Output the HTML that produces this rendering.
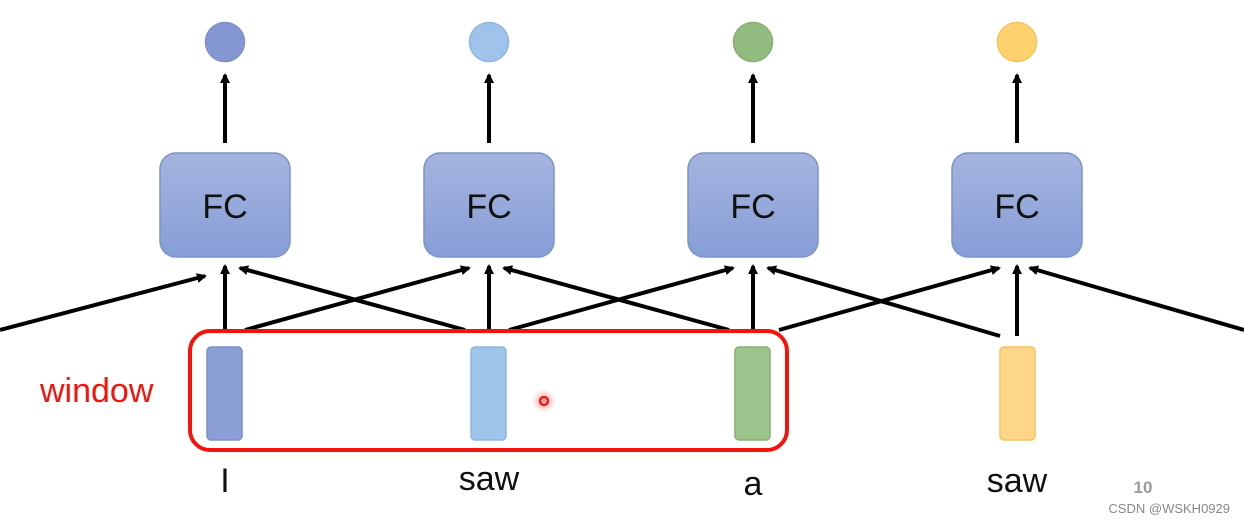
<!DOCTYPE html>
<html><head><meta charset="utf-8"><style>
html,body{margin:0;padding:0;background:#fff;}
svg{display:block;}
text{font-family:"Liberation Sans","DejaVu Sans",sans-serif;}
</style></head><body>
<svg width="1244" height="523" viewBox="0 0 1244 523" xmlns="http://www.w3.org/2000/svg">
<defs>
<linearGradient id="fc" x1="0" y1="0" x2="0" y2="1"><stop offset="0" stop-color="#a5b4df"/><stop offset="1" stop-color="#879ed7"/></linearGradient>
<marker id="ah" markerWidth="10" markerHeight="10" refX="8" refY="5" orient="auto" markerUnits="userSpaceOnUse" viewBox="0 0 10 10"><path d="M0,0 L10,5 L0,10 Z" fill="#000"/></marker>
<radialGradient id="glow"><stop offset="0" stop-color="#ff6060" stop-opacity="0.6"/><stop offset="1" stop-color="#ff6060" stop-opacity="0"/></radialGradient>
</defs>
<g stroke="#000" stroke-width="4" fill="none" marker-end="url(#ah)">
<!-- top arrows -->
<line x1="225" y1="143" x2="225" y2="75"/>
<line x1="489" y1="143" x2="489" y2="75"/>
<line x1="753" y1="143" x2="753" y2="75"/>
<line x1="1017" y1="143" x2="1017" y2="75"/>
<!-- verticals -->
<line x1="225" y1="330" x2="225" y2="266"/>
<line x1="489" y1="330" x2="489" y2="266"/>
<line x1="753" y1="330" x2="753" y2="266"/>
<line x1="1017" y1="336" x2="1017" y2="266"/>
<!-- diagonals -->
<line x1="0" y1="330" x2="205" y2="276"/>
<line x1="245" y1="330" x2="469" y2="268"/>
<line x1="465" y1="330" x2="240" y2="268"/>
<line x1="509" y1="330" x2="733" y2="268"/>
<line x1="729" y1="330" x2="504" y2="268"/>
<line x1="779" y1="330" x2="999" y2="268"/>
<line x1="1000" y1="336" x2="768" y2="268"/>
<line x1="1244" y1="330" x2="1030" y2="268"/>
</g>
<!-- circles -->
<circle cx="225" cy="42" r="19.5" fill="#8497d3" stroke="#7b8fcb" stroke-width="1.5"/>
<circle cx="489" cy="42" r="19.5" fill="#9fc3ea" stroke="#8db5e2" stroke-width="1.5"/>
<circle cx="753" cy="42" r="19.5" fill="#92bb80" stroke="#85b070" stroke-width="1.5"/>
<circle cx="1017" cy="42" r="19.5" fill="#fed16e" stroke="#f5c45a" stroke-width="1.5"/>
<!-- FC boxes -->
<g stroke="#7b93cc" stroke-width="1.5" fill="url(#fc)">
<rect x="160" y="153" width="130" height="104" rx="16"/>
<rect x="424" y="153" width="130" height="104" rx="16"/>
<rect x="688" y="153" width="130" height="104" rx="16"/>
<rect x="952" y="153" width="130" height="104" rx="16"/>
</g>
<g font-size="34" text-anchor="middle" fill="#111">
<text x="225" y="218">FC</text>
<text x="489" y="218">FC</text>
<text x="753" y="218">FC</text>
<text x="1017" y="218">FC</text>
</g>
<!-- vectors -->
<rect x="207" y="347" width="35" height="93" rx="4" fill="#8b9ed6" stroke="#7b8fcb" stroke-width="1.5"/>
<rect x="471" y="347" width="35" height="93" rx="4" fill="#a0c5ea" stroke="#8db5e2" stroke-width="1.5"/>
<rect x="735" y="347" width="35" height="93" rx="4" fill="#9ec48e" stroke="#85b070" stroke-width="1.5"/>
<rect x="1000" y="347" width="35" height="93" rx="4" fill="#fed688" stroke="#f5c45a" stroke-width="1.5"/>
<!-- window -->
<rect x="190" y="331" width="597" height="119" rx="20" fill="none" stroke="#f4140c" stroke-width="4"/>
<text x="40" y="402" font-size="34" fill="#f4140c">window</text>
<circle cx="544" cy="401" r="12" fill="url(#glow)"/>
<circle cx="544" cy="401" r="4" fill="none" stroke="#e82020" stroke-width="2.5"/>
<!-- labels -->
<g font-size="34" text-anchor="middle" fill="#111">
<text x="225" y="492">I</text>
<text x="489" y="490">saw</text>
<text x="753" y="495">a</text>
<text x="1017" y="492">saw</text>
</g>
<text x="1143" y="493" font-size="17" font-weight="bold" fill="#999" text-anchor="middle">10</text>
<text x="1230" y="513" font-size="13" fill="#888" text-anchor="end">CSDN @WSKH0929</text>
</svg>
</body></html>
